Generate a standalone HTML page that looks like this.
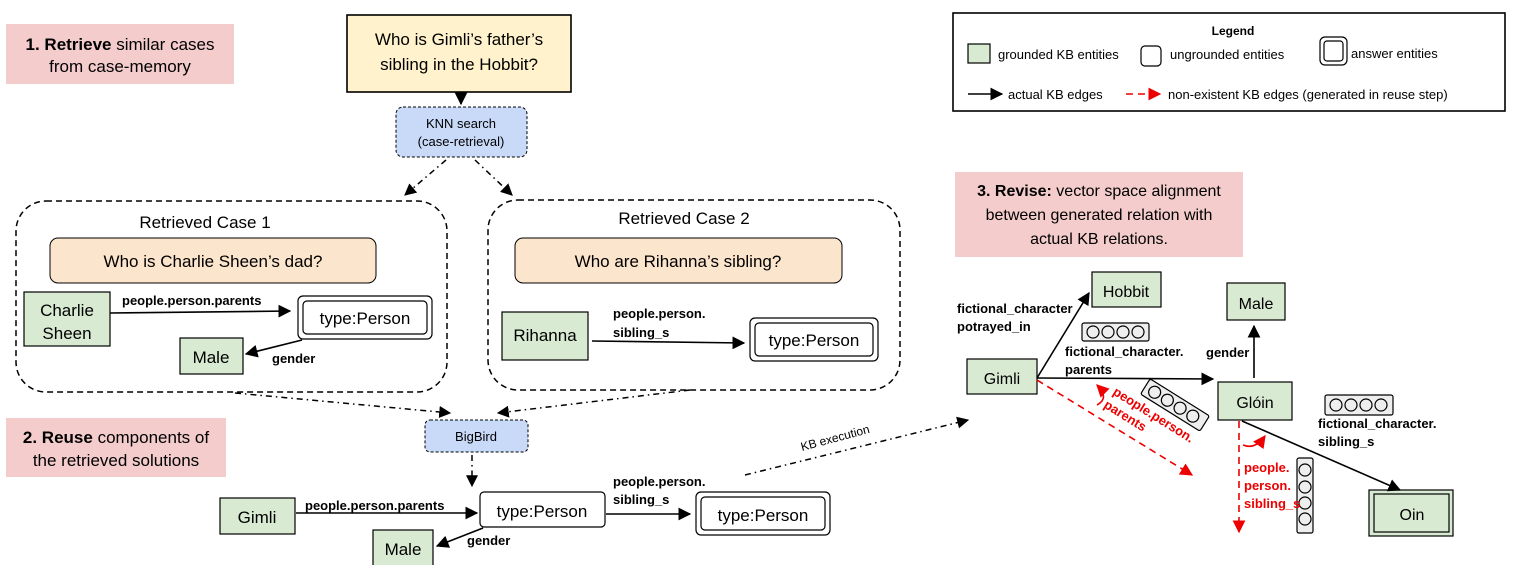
<!DOCTYPE html>
<html><head><meta charset="utf-8"><style>
html,body{margin:0;padding:0;background:#fff;}
svg{display:block;font-family:"Liberation Sans",sans-serif;}
.g{fill:#d9ead3;stroke:#000;stroke-width:1.2}
.w{fill:#fff;stroke:#000;stroke-width:1.2}
.l{stroke:#000;stroke-width:1.6;fill:none}
.dd{stroke:#000;stroke-width:1.5;fill:none;stroke-dasharray:6 4 1.5 4}
.r{stroke:#e00;stroke-width:1.6;fill:none;stroke-dasharray:7 5}
.b{font-weight:bold;font-size:13px}
.rb{font-weight:bold;font-size:13px;fill:#e00}
</style></head><body>
<svg width="1520" height="565" viewBox="0 0 1520 565" xmlns="http://www.w3.org/2000/svg">
<defs>
<marker id="a" viewBox="0 0 10 10" refX="9" refY="5" markerWidth="8" markerHeight="8" orient="auto-start-reverse"><path d="M0 0L10 5L0 10z" fill="#000"/></marker>
<marker id="ar" viewBox="0 0 10 10" refX="9" refY="5" markerWidth="8" markerHeight="8" orient="auto"><path d="M0 0L10 5L0 10z" fill="#e00"/></marker>
</defs>
<!-- top-left -->
<rect x="6" y="24" width="228" height="60" fill="#f4cccc"/>
<text x="120" y="50" font-size="17" text-anchor="middle"><tspan font-weight="bold">1. Retrieve</tspan> similar cases</text>
<text x="120" y="72" font-size="17" text-anchor="middle">from case-memory</text>
<rect x="347" y="15" width="224" height="77" fill="#fff2cc" stroke="#000" stroke-width="1.6"/>
<text x="459" y="45" font-size="17" text-anchor="middle">Who is Gimli’s father’s</text>
<text x="459" y="70" font-size="17" text-anchor="middle">sibling in the Hobbit?</text>
<line x1="461" y1="92" x2="461" y2="104" class="l" marker-end="url(#a)"/>
<rect x="396" y="107" width="131" height="50" rx="7" fill="#c9daf8" stroke="#000" stroke-dasharray="3 2"/>
<text x="461" y="128" font-size="13" text-anchor="middle">KNN search</text>
<text x="461" y="146" font-size="13" text-anchor="middle">(case-retrieval)</text>
<line x1="446" y1="160" x2="405" y2="195" class="dd" marker-end="url(#a)"/>
<line x1="475" y1="160" x2="512" y2="195" class="dd" marker-end="url(#a)"/>
<!-- case 1 -->
<rect x="16" y="201" width="431" height="191" rx="30" fill="none" stroke="#000" stroke-width="1.5" stroke-dasharray="6 4"/>
<text x="205" y="228" font-size="17" text-anchor="middle">Retrieved Case 1</text>
<rect x="50" y="238" width="326" height="45" rx="8" fill="#fce5cd" stroke="#000"/>
<text x="213" y="267" font-size="17" text-anchor="middle">Who is Charlie Sheen’s dad?</text>
<rect x="24" y="292" width="86" height="54" class="g"/>
<text x="67" y="316" font-size="17" text-anchor="middle">Charlie</text>
<text x="67" y="339" font-size="17" text-anchor="middle">Sheen</text>
<line x1="110" y1="313" x2="290" y2="311" class="l" marker-end="url(#a)"/>
<text x="122" y="305" class="b">people.person.parents</text>
<rect x="298" y="296" width="134" height="43" rx="5" class="w"/>
<rect x="303" y="301" width="124" height="33" rx="4" class="w"/>
<text x="365" y="324" font-size="17" text-anchor="middle">type:Person</text>
<rect x="180" y="338" width="63" height="36" class="g"/>
<text x="211" y="363" font-size="17" text-anchor="middle">Male</text>
<line x1="302" y1="340" x2="246" y2="354" class="l" marker-end="url(#a)"/>
<text x="272" y="363" class="b">gender</text>
<!-- case 2 -->
<rect x="488" y="200" width="412" height="190" rx="30" fill="none" stroke="#000" stroke-width="1.5" stroke-dasharray="6 4"/>
<text x="684" y="224" font-size="17" text-anchor="middle">Retrieved Case 2</text>
<rect x="515" y="238" width="327" height="45" rx="8" fill="#fce5cd" stroke="#000"/>
<text x="678" y="267" font-size="17" text-anchor="middle">Who are Rihanna’s sibling?</text>
<rect x="502" y="312" width="86" height="48" class="g"/>
<text x="545" y="341" font-size="17" text-anchor="middle">Rihanna</text>
<line x1="592" y1="341" x2="744" y2="343" class="l" marker-end="url(#a)"/>
<text x="613" y="318" class="b">people.person.</text>
<text x="613" y="337" class="b">sibling_s</text>
<rect x="750" y="318" width="128" height="43" rx="5" class="w"/>
<rect x="755" y="323" width="118" height="33" rx="4" class="w"/>
<text x="814" y="346" font-size="17" text-anchor="middle">type:Person</text>
<!-- reuse -->
<line x1="235" y1="393" x2="450" y2="413" class="dd" marker-end="url(#a)"/>
<line x1="690" y1="390" x2="498" y2="413" class="dd" marker-end="url(#a)"/>
<rect x="6" y="418" width="220" height="59" fill="#f4cccc"/>
<text x="116" y="443" font-size="17" text-anchor="middle"><tspan font-weight="bold">2. Reuse</tspan> components of</text>
<text x="116" y="466" font-size="17" text-anchor="middle">the retrieved solutions</text>
<rect x="425" y="420" width="103" height="32" rx="5" fill="#c9daf8" stroke="#000" stroke-dasharray="3 2"/>
<text x="476" y="441" font-size="13" text-anchor="middle">BigBird</text>
<line x1="472" y1="455" x2="472" y2="486" class="dd" marker-end="url(#a)"/>
<rect x="220" y="498" width="75" height="36" class="g"/>
<text x="257" y="523" font-size="17" text-anchor="middle">Gimli</text>
<line x1="296" y1="513" x2="477" y2="513" class="l" marker-end="url(#a)"/>
<text x="305" y="510" class="b">people.person.parents</text>
<rect x="480" y="492" width="125" height="35" rx="4" class="w"/>
<text x="542" y="517" font-size="17" text-anchor="middle">type:Person</text>
<rect x="373" y="530" width="60" height="40" class="g"/>
<text x="403" y="555" font-size="17" text-anchor="middle">Male</text>
<line x1="483" y1="528" x2="437" y2="546" class="l" marker-end="url(#a)"/>
<text x="467" y="545" class="b">gender</text>
<line x1="606" y1="514" x2="690" y2="514" class="l" marker-end="url(#a)"/>
<text x="613" y="486" class="b">people.person.</text>
<text x="613" y="504" class="b">sibling_s</text>
<rect x="696" y="492" width="134" height="43" rx="5" class="w"/>
<rect x="701" y="497" width="124" height="33" rx="4" class="w"/>
<text x="763" y="521" font-size="17" text-anchor="middle">type:Person</text>
<line x1="745" y1="475" x2="968" y2="420" class="dd" marker-end="url(#a)"/>
<text x="802" y="451" font-size="12" transform="rotate(-15 802 451)">KB execution</text>
<!-- legend -->
<rect x="953" y="13" width="552" height="98" fill="none" stroke="#000" stroke-width="1.6"/>
<text x="1233" y="35" font-weight="bold" font-size="12" text-anchor="middle">Legend</text>
<rect x="968" y="44" width="22" height="19" class="g"/>
<text x="998" y="59" font-size="13">grounded KB entities</text>
<rect x="1141" y="46" width="20" height="20" rx="4" class="w"/>
<text x="1170" y="59" font-size="13">ungrounded entities</text>
<rect x="1320" y="37" width="27" height="28" rx="5" class="w"/>
<rect x="1324" y="41" width="19" height="20" rx="3" class="w"/>
<text x="1351" y="58" font-size="13">answer entities</text>
<line x1="968" y1="94" x2="1002" y2="94" class="l" marker-end="url(#a)"/>
<text x="1008" y="99" font-size="13">actual KB edges</text>
<line x1="1126" y1="94" x2="1160" y2="94" class="r" marker-end="url(#ar)"/>
<text x="1168" y="99" font-size="13">non-existent KB edges (generated in reuse step)</text>
<!-- revise -->
<rect x="955" y="172" width="288" height="85" fill="#f4cccc"/>
<text x="1099" y="196" font-size="16" text-anchor="middle"><tspan font-weight="bold">3. Revise:</tspan> vector space alignment</text>
<text x="1099" y="220" font-size="16" text-anchor="middle">between generated relation with</text>
<text x="1099" y="244" font-size="16" text-anchor="middle">actual KB relations.</text>
<rect x="967" y="359" width="70" height="35" class="g"/>
<text x="1002" y="384" font-size="16" text-anchor="middle">Gimli</text>
<rect x="1092" y="272" width="69" height="35" class="g"/>
<text x="1126" y="297" font-size="16" text-anchor="middle">Hobbit</text>
<rect x="1227" y="283" width="58" height="37" class="g"/>
<text x="1256" y="309" font-size="16" text-anchor="middle">Male</text>
<rect x="1218" y="382" width="74" height="38" class="g"/>
<text x="1255" y="408" font-size="16" text-anchor="middle">Glóin</text>
<rect x="1369" y="490" width="84" height="46" class="g"/>
<rect x="1374" y="494" width="75" height="38" fill="none" stroke="#000" stroke-width="1.2"/>
<text x="1412" y="520" font-size="16" text-anchor="middle">Oin</text>
<line x1="1037" y1="378" x2="1089" y2="293" class="l" marker-end="url(#a)"/>
<text x="957" y="313" class="b">fictional_character</text>
<text x="957" y="331" class="b">potrayed_in</text>
<g fill="none" stroke="#000" stroke-width="1.2">
<rect x="1082" y="323" width="67" height="18" rx="2" fill="#eee"/>
<circle cx="1093" cy="332" r="6"/><circle cx="1108" cy="332" r="6"/><circle cx="1123" cy="332" r="6"/><circle cx="1138" cy="332" r="6"/>
<rect x="1325" y="395" width="68" height="20" rx="2" fill="#eee"/>
<circle cx="1336" cy="405" r="6"/><circle cx="1351" cy="405" r="6"/><circle cx="1366" cy="405" r="6"/><circle cx="1381" cy="405" r="6"/>
<rect x="1297" y="458" width="16" height="75" rx="2" fill="#eee"/>
<circle cx="1305" cy="470" r="6"/><circle cx="1305" cy="487" r="6"/><circle cx="1305" cy="503" r="6"/><circle cx="1305" cy="519" r="6"/>
<g transform="rotate(32 1175 405)"><rect x="1140" y="396" width="70" height="18" rx="2" fill="#eee"/>
<circle cx="1151" cy="405" r="6"/><circle cx="1166" cy="405" r="6"/><circle cx="1181" cy="405" r="6"/><circle cx="1196" cy="405" r="6"/></g>
</g>
<text x="1065" y="356" class="b">fictional_character.</text>
<text x="1065" y="374" class="b">parents</text>
<line x1="1037" y1="378" x2="1213" y2="379" class="l" marker-end="url(#a)"/>
<line x1="1037" y1="380" x2="1192" y2="475" class="r" marker-end="url(#ar)"/>
<path d="M1097 405 Q1110 398 1097 385" class="l" style="stroke:#e00" marker-end="url(#ar)"/>
<text x="1112" y="394" class="rb" transform="rotate(32 1112 394)">people.person.</text>
<text x="1103" y="407" class="rb" transform="rotate(32 1103 407)">parents</text>
<line x1="1254" y1="378" x2="1254" y2="326" class="l" marker-end="url(#a)"/>
<text x="1206" y="357" class="b">gender</text>
<line x1="1242" y1="421" x2="1400" y2="490" class="l" marker-end="url(#a)"/>
<text x="1318" y="428" class="b">fictional_character.</text>
<text x="1318" y="446" class="b">sibling_s</text>
<line x1="1239" y1="421" x2="1239" y2="532" class="r" marker-end="url(#ar)"/>
<path d="M1243 445 Q1255 450 1265 436" class="l" style="stroke:#e00" marker-end="url(#ar)"/>
<text x="1244" y="472" class="rb">people.</text>
<text x="1244" y="490" class="rb">person.</text>
<text x="1244" y="508" class="rb">sibling_s</text>
</svg>
</body></html>
